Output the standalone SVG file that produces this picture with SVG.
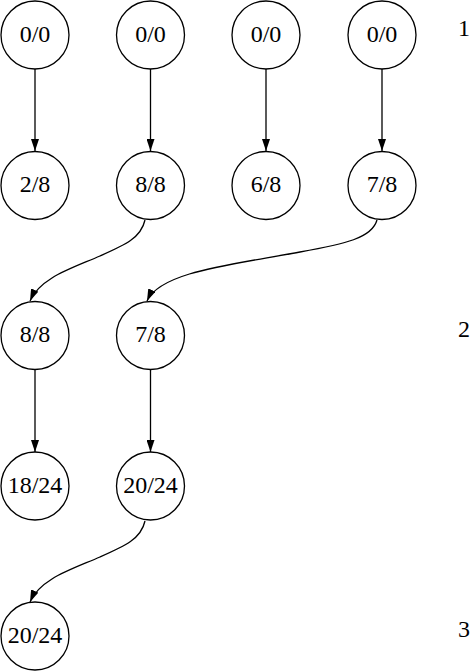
<svg xmlns="http://www.w3.org/2000/svg" width="474" height="672" viewBox="0 0 474 672">
<style>
.n circle{fill:#fff;stroke:#000;stroke-width:1.3}
text{font-family:"Liberation Serif","Times New Roman",serif;font-size:24px;fill:#000;text-anchor:middle}
.e path{fill:none;stroke:#000;stroke-width:1.3;marker-end:url(#a)}
</style>
<defs>
<marker id="a" viewBox="0 0 12 8" refX="12" refY="4" markerWidth="12" markerHeight="8" markerUnits="userSpaceOnUse" orient="auto">
<path d="M0,0 L12,4 L0,8 z" fill="#000"/>
</marker>
</defs>
<g id="edges" class="e">
<path d="M35,69 L35,151"/>
<path d="M150.5,69 L150.5,151"/>
<path d="M266,69 L266,151"/>
<path d="M382,69 L382,151"/>
<path d="M145,220 C141,238 125,245 100,256 C70,269 40,278 30,301"/>
<path d="M377,220 C372,238 345,244 300,252 C230,265 160,272 147,301"/>
<path d="M35,370 L35,452"/>
<path d="M150.5,370 L150.5,452"/>
<path d="M145,521 C141,539 125,546 100,557 C70,570 40,579 30,602"/>
</g>
<g id="n1" class="n"><circle cx="35" cy="35" r="34"/><text x="35" y="41.5">0/0</text></g>
<g id="n2" class="n"><circle cx="150.5" cy="35" r="34"/><text x="150.5" y="41.5">0/0</text></g>
<g id="n3" class="n"><circle cx="266" cy="35" r="34"/><text x="266" y="41.5">0/0</text></g>
<g id="n4" class="n"><circle cx="382" cy="35" r="34"/><text x="382" y="41.5">0/0</text></g>
<g id="n5" class="n"><circle cx="35" cy="185.5" r="34"/><text x="35" y="192">2/8</text></g>
<g id="n6" class="n"><circle cx="150.5" cy="185.5" r="34"/><text x="150.5" y="192">8/8</text></g>
<g id="n7" class="n"><circle cx="266" cy="185.5" r="34"/><text x="266" y="192">6/8</text></g>
<g id="n8" class="n"><circle cx="382" cy="185.5" r="34"/><text x="382" y="192">7/8</text></g>
<g id="n9" class="n"><circle cx="35" cy="335.5" r="34"/><text x="35" y="342">8/8</text></g>
<g id="n10" class="n"><circle cx="150.5" cy="335.5" r="34"/><text x="150.5" y="342">7/8</text></g>
<g id="n11" class="n"><circle cx="35" cy="486" r="34"/><text x="35" y="492.5">18/24</text></g>
<g id="n12" class="n"><circle cx="150.5" cy="486" r="34"/><text x="150.5" y="492.5">20/24</text></g>
<g id="n13" class="n"><circle cx="35" cy="636" r="34"/><text x="35" y="642.5">20/24</text></g>
<g id="labels">
<text x="464" y="35.5">1</text>
<text x="464" y="337">2</text>
<text x="464" y="637">3</text>
</g>
</svg>
